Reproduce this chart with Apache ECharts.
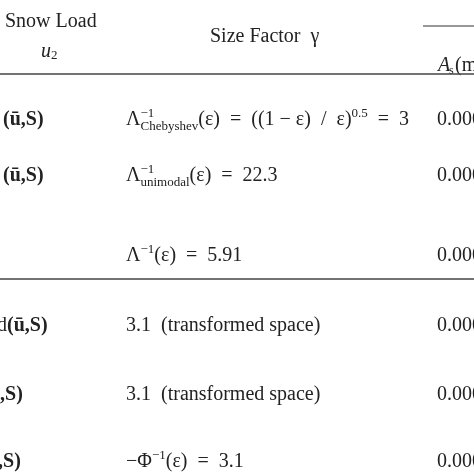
<!DOCTYPE html>
<html><head><meta charset="utf-8">
<script src="https://cdn.jsdelivr.net/npm/echarts@6/dist/echarts.min.js"></script>
<style>html,body{margin:0;background:#fff}#c{width:474px;height:474px}</style>
</head><body><div id="c"></div>
<script>
const headers = ["Snow Load", "Size Factor  γ"];
const col1 = ["{b|(ū,S)}", "{b|(ū,S)}", "", "{n|d}{b|(ū,S)}", "{b|ū,S)}", "{b|ū,S)}"];
const col2 = [
  "{n|Λ}{sp|−1}{sb|Chebyshev}{n|(ε)  =  ((1 − ε)  /  ε)}{s|0.5}{n|  =  3}",
  "{n|Λ}{sp|−1}{sb|unimodal}{n|(ε)  =  22.3}",
  "{n|Λ}{s|−1}{n|(ε)  =  5.91}",
  "{n|3.1  (transformed space)}",
  "{n|3.1  (transformed space)}",
  "{n|−Φ}{s|−1}{n|(ε)  =  3.1}"
];
const col3 = ["0.000", "0.000", "0.000", "0.000", "0.000", "0.000"];
const rowY = [120, 176, 256, 326, 395, 462];
const col1X = [3, 3, 0, -3, -11, -13];

const F = "'Liberation Serif', 'DejaVu Serif', serif";
const rich = {
  n: {fontSize: 20, fontFamily: F, fill: '#222'},
  b: {fontSize: 20, fontFamily: F, fill: '#222', fontWeight: 'bold'},
  s: {fontSize: 13, fontFamily: F, fill: '#222', padding: [0, 0, 13, 0]},
  sp: {fontSize: 13, fontFamily: F, fill: '#222', padding: [0, 0, 13, 0], width: 0},
  sb: {fontSize: 13, fontFamily: F, fill: '#222', padding: [13, 0, 0, 0]}
};
const g = [];
const txt = (x, y, t) => g.push({type: 'text', x, y, style: {text: t, rich, font: '20px ' + F, fill: '#222', verticalAlign: 'middle'}});
txt(5, 22, headers[0]);
g.push({type: 'text', x: 41, y: 52, style: {text: 'u', font: 'italic 20px ' + F, fill: '#222', verticalAlign: 'middle'}});
g.push({type: 'text', x: 51, y: 56, style: {text: '2', font: '13px ' + F, fill: '#222', verticalAlign: 'middle'}});
txt(210, 37, headers[1]);
g.push({type: 'text', x: 438, y: 66, style: {text: 'A', font: 'italic 20px ' + F, fill: '#222', verticalAlign: 'middle'}});
g.push({type: 'text', x: 449, y: 71, style: {text: 's', font: '12px ' + F, fill: '#222', verticalAlign: 'middle'}});
g.push({type: 'text', x: 455, y: 66, style: {text: '(m', font: '20px ' + F, fill: '#222', verticalAlign: 'middle'}});
g.push({type: 'line', shape: {x1: 423, y1: 26, x2: 474, y2: 26}, style: {stroke: '#333', lineWidth: 1.2}});
g.push({type: 'line', shape: {x1: 0, y1: 74, x2: 474, y2: 74}, style: {stroke: '#444', lineWidth: 1.3}});
g.push({type: 'line', shape: {x1: 0, y1: 279, x2: 474, y2: 279}, style: {stroke: '#444', lineWidth: 1.3}});
rowY.forEach((y, i) => {
  if (col1[i]) txt(col1X[i], y, col1[i]);
  txt(126, y, col2[i]);
  txt(437, y, col3[i]);
});
const chart = echarts.init(document.getElementById('c'));
chart.setOption({backgroundColor: '#fff', graphic: {elements: g}});
</script></body></html>
